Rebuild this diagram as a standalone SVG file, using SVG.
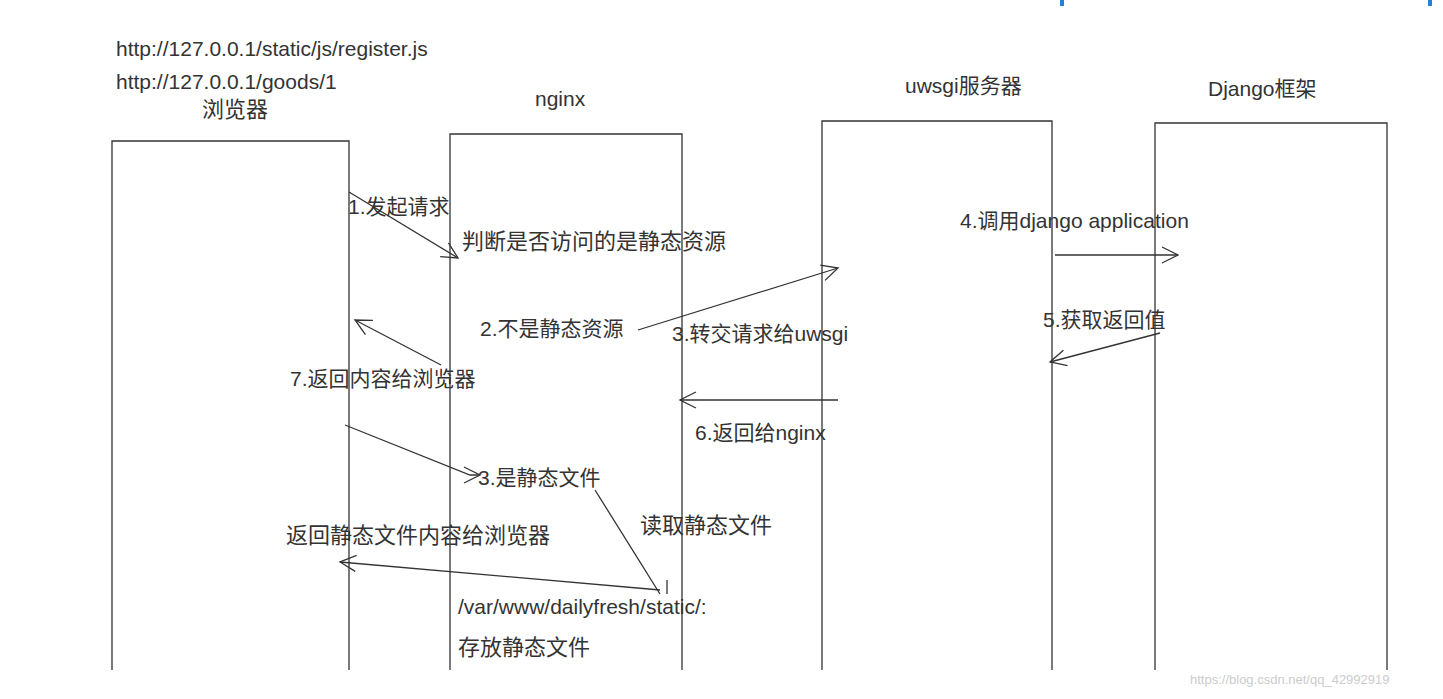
<svg xmlns="http://www.w3.org/2000/svg" width="1443" height="699" viewBox="0 0 1443 699">
<style>
.box{fill:#fff;stroke:#333;stroke-width:1.3}
.ln{fill:none;stroke:#333;stroke-width:1.3}
text{font-family:"Liberation Sans","Noto Sans CJK SC",sans-serif;font-size:21px;fill:#333}
.cn{font-size:22px}
.wm{font-size:13px;fill:#ccc}
</style>
<defs>
<marker id="a" viewBox="0 0 20 20" refX="18" refY="10" markerWidth="20" markerHeight="20" markerUnits="userSpaceOnUse" orient="auto">
<path d="M2,2 L18,10 L2,18" fill="none" stroke="#333" stroke-width="1.3"/>
</marker>
</defs>
<rect width="1443" height="699" fill="#fff"/>
<path d="M1062,0 v6 M1430,0 v6" stroke="#2a7fd4" stroke-width="4"/>
<text x="116" y="56">http://127.0.0.1/static/js/register.js</text>
<text x="116" y="89">http://127.0.0.1/goods/1</text>
<g id="browser"><path class="box" d="M112,670 V141 H349 V670"/><text class="cn" x="202" y="117">浏览器</text></g>
<g id="nginx"><path class="box" d="M450,670 V134 H682 V670"/><text x="535" y="106">nginx</text></g>
<g id="uwsgi"><path class="box" d="M822,670 V121 H1052 V670"/><text x="905" y="93">uwsgi服务器</text></g>
<g id="django"><path class="box" d="M1155,670 V123 H1387 V670"/><text x="1208" y="96">Django框架</text></g>
<g id="connectors">
<line class="ln" x1="349" y1="192" x2="458" y2="258" marker-end="url(#a)"/>
<line class="ln" x1="638" y1="330" x2="838" y2="268" marker-end="url(#a)"/>
<line class="ln" x1="441" y1="365" x2="355" y2="320" marker-end="url(#a)"/>
<line class="ln" x1="1055" y1="255" x2="1178" y2="255" marker-end="url(#a)"/>
<line class="ln" x1="1160" y1="333" x2="1050" y2="362" marker-end="url(#a)"/>
<line class="ln" x1="838" y1="400" x2="680" y2="400" marker-end="url(#a)"/>
<polyline class="ln" points="345,425 470,475 480,475" marker-end="url(#a)"/>
<line class="ln" x1="595" y1="490" x2="660" y2="594"/>
<line class="ln" x1="660" y1="590" x2="340" y2="562" marker-end="url(#a)"/>
<line class="ln" x1="667" y1="580" x2="667" y2="594"/>
</g>
<g id="labels">
<text x="348" y="214">1.发起请求</text>
<text class="cn" x="462" y="249">判断是否访问的是静态资源</text>
<text x="480" y="336">2.不是静态资源</text>
<text x="672" y="341">3.转交请求给uwsgi</text>
<text x="290" y="386">7.返回内容给浏览器</text>
<text x="960" y="228">4.调用django application</text>
<text x="1043" y="327">5.获取返回值</text>
<text x="695" y="440">6.返回给nginx</text>
<text x="478" y="485">3.是静态文件</text>
<text class="cn" x="640" y="533">读取静态文件</text>
<text class="cn" x="286" y="543">返回静态文件内容给浏览器</text>
<text x="458" y="614">/var/www/dailyfresh/static/:</text>
<text class="cn" x="458" y="655">存放静态文件</text>
<text class="wm" x="1190" y="684">https://blog.csdn.net/qq_42992919</text>
</g>
</svg>
